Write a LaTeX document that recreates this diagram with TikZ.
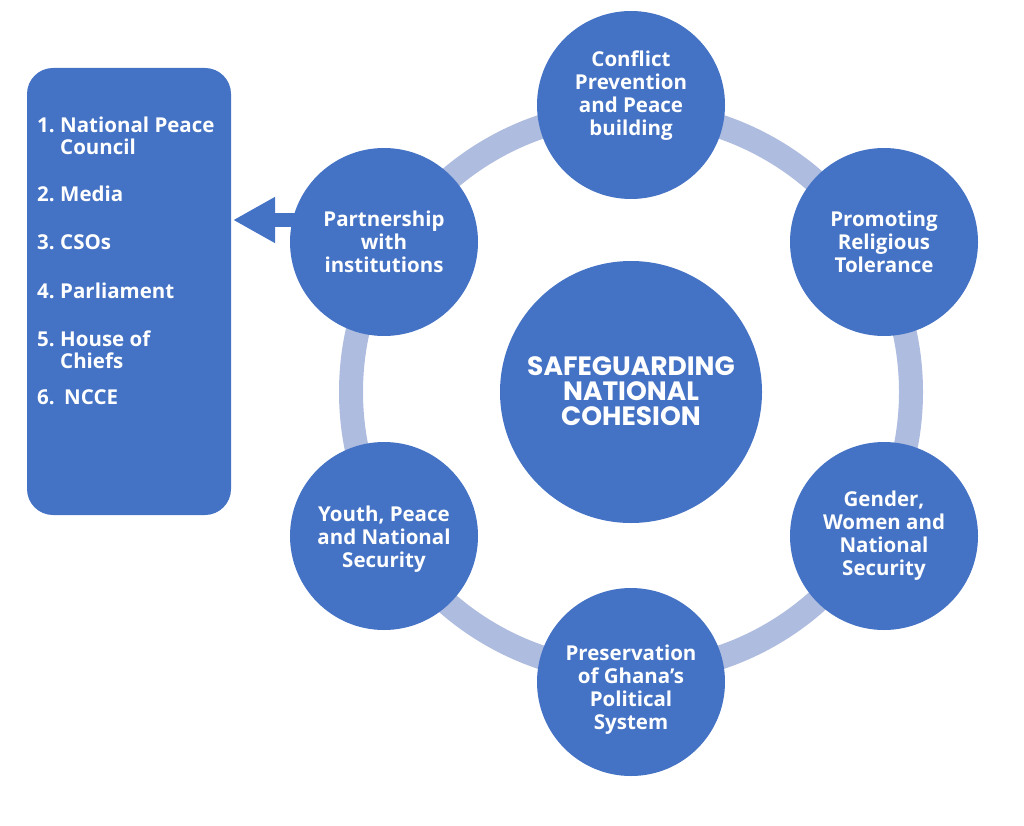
\documentclass[tikz,border=0pt]{standalone}
\usepackage{fontspec}
\setmainfont{Open Sans}
\newfontfamily\popp{Poppins}
\usetikzlibrary{arrows.meta}
\definecolor{mainblue}{HTML}{4472C4}
\definecolor{ringblue}{HTML}{AEBCDF}
\tikzset{
  bub/.style={circle, fill=mainblue, draw=none, minimum size=188pt, inner sep=0pt},
  bubtext/.style={text=white, align=center, font=\fontsize{20.5}{23}\selectfont\bfseries, inner sep=0pt},
  item/.style={text=white, anchor=base west, inner sep=0pt, font=\fontsize{20.5}{22}\selectfont\bfseries},
  ringline/.style={draw=ringblue, line width=24pt},
}
\begin{document}
\begin{tikzpicture}[x=1pt,y=-1pt]
\useasboundingbox (0,0) rectangle (1024,826);
% ring
\coordinate (ctr) at (631,392);
\draw[ringline] (ctr) circle (280);
% left box
\node[fill=mainblue, rounded corners=26pt, minimum width=204pt, minimum height=447pt, inner sep=0pt] (box) at (129,291.5) {};
% arrow
\coordinate (tip) at (233,220);
\coordinate (tail) at (330,220);
\draw[draw=mainblue, fill=mainblue, line width=14pt, -{Triangle[length=42pt,width=43pt]}] (tail) -- (tip);
% circles
\node[bub, minimum size=262pt] (c0) at (ctr) {};
\node[bub] (c1) at (631,105) {};
\node[bub] (c2) at (884,242) {};
\node[bub] (c3) at (884,536) {};
\node[bub] (c4) at (631,682) {};
\node[bub] (c5) at (384,536) {};
\node[bub] (c6) at (384,242) {};
% texts
\node[text=white, align=center, inner sep=0pt, font=\popp\fontsize{26.5}{25}\selectfont\bfseries] (t0) at ([yshift=1pt]c0) {SAFEGUARDING\\NATIONAL\\COHESION};
\node[bubtext] (t1) at ([yshift=9pt]c1) {Conflict\\Prevention\\and Peace\\building};
\node[bubtext] (t2) at (c2) {Promoting\\Religious\\Tolerance};
\node[bubtext] (t3) at (c3) {Gender,\\Women and\\National\\Security};
\node[bubtext] (t4) at ([yshift=-8pt]c4) {Preservation\\of Ghana’s\\Political\\System};
\node[bubtext] (t5) at ([yshift=-3pt]c5) {Youth, Peace\\and National\\Security};
\node[bubtext] (t6) at (c6) {Partnership\\with\\institutions};
% list
\node[item] (n1) at (37,133) {1.};
\node[item] (i1) at (60,133) {National Peace};
\node[item] (i1b) at (60,155) {Council};
\node[item] (n2) at (37,202) {2.};
\node[item] (i2) at (60,202) {Media};
\node[item] (n3) at (37,249) {3.};
\node[item] (i3) at (60,249) {CSOs};
\node[item] (n4) at (37,298) {4.};
\node[item] (i4) at (60,298) {Parliament};
\node[item] (n5) at (37,346) {5.};
\node[item] (i5) at (60,346) {House of};
\node[item] (i5b) at (60,368) {Chiefs};
\node[item] (n6) at (37,404) {6.};
\node[item] (i6) at (64,404) {NCCE};
\end{tikzpicture}
\end{document}
